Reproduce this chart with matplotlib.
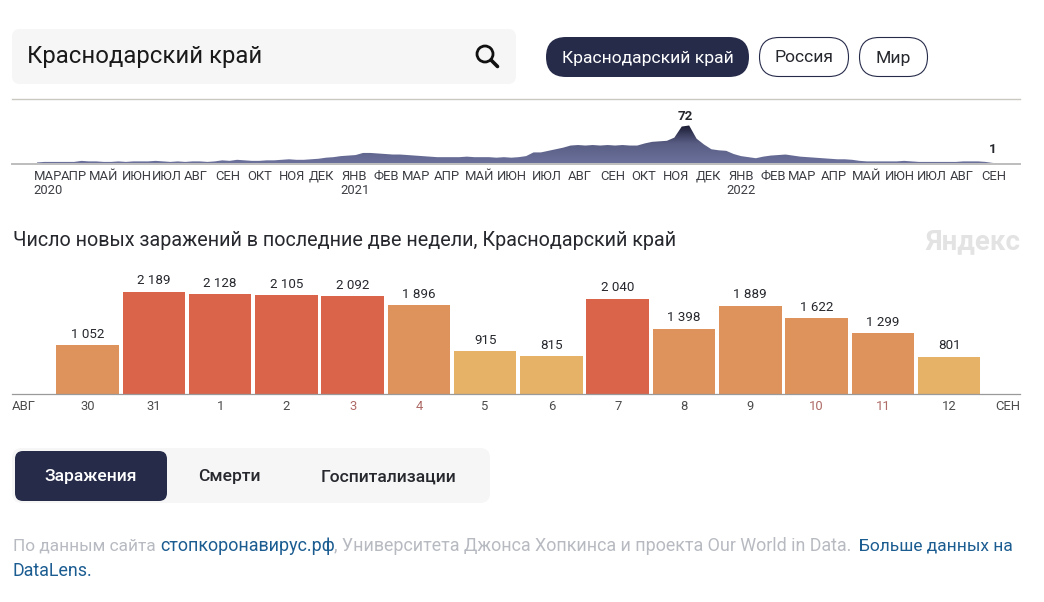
#!/usr/bin/env python
"""Число новых заражений: обзор за весь период и последние две недели"""

import numpy as np
import pandas as pd
import matplotlib
matplotlib.use('Agg')
import matplotlib.pyplot as plt
import matplotlib.dates as mdates
from matplotlib.colors import LinearSegmentedColormap
from matplotlib.patches import FancyBboxPatch, Circle

plt.rcParams['font.family'] = ['Roboto', 'DejaVu Sans']

# data
days = ['30', '31', '1', '2', '3', '4', '5', '6', '7', '8', '9', '10', '11', '12']
cases = [1052, 2189, 2128, 2105, 2092, 1896, 915, 815, 2040, 1398, 1889, 1622, 1299, 801]
weekend_days = ['3', '4', '10', '11']

# недельные значения за весь период, с 22 марта 2020
overview_start = '2020-03-22'
overview = [2, 3, 3, 3, 3, 3, 5, 4, 4, 3, 3, 4, 3, 4, 4, 4, 5, 4, 3, 4,
            3, 4, 4, 3, 4, 6, 5, 7, 6, 5, 5, 6, 6, 7, 8, 7, 7, 8, 9, 11,
            12, 14, 15, 16, 20, 20, 19, 18, 17, 17, 16, 15, 14, 13, 12, 12, 12, 12, 13, 12,
            12, 12, 11, 12, 11, 12, 14, 21, 21, 24, 27, 30, 34, 35, 34, 35, 34, 35, 34, 35,
            34, 34, 38, 41, 42, 43, 49, 70, 72, 47, 36, 27, 25, 24, 18, 14, 12, 10, 13, 15,
            16, 17, 15, 13, 12, 11, 10, 9, 8, 8, 7, 5, 4, 4, 4, 4, 4, 5, 4, 3,
            3, 3, 3, 3, 3, 4, 4, 4, 3, 1]

month_dates = ['2020-04-01', '2020-04-26', '2020-05-24', '2020-06-24', '2020-07-23', '2020-08-19',
               '2020-09-18', '2020-10-18', '2020-11-18', '2020-12-16', '2021-01-16', '2021-02-15',
               '2021-03-15', '2021-04-13', '2021-05-14', '2021-06-14', '2021-07-17', '2021-08-17',
               '2021-09-17', '2021-10-16', '2021-11-16', '2021-12-16', '2022-01-16', '2022-02-15',
               '2022-03-15', '2022-04-14', '2022-05-15', '2022-06-15', '2022-07-15', '2022-08-12',
               '2022-09-12']
month_labels = ['МАР\n2020', 'АПР', 'МАЙ', 'ИЮН', 'ИЮЛ', 'АВГ', 'СЕН', 'ОКТ', 'НОЯ', 'ДЕК',
                'ЯНВ\n2021', 'ФЕВ', 'МАР', 'АПР', 'МАЙ', 'ИЮН', 'ИЮЛ', 'АВГ', 'СЕН', 'ОКТ', 'НОЯ', 'ДЕК',
                'ЯНВ\n2022', 'ФЕВ', 'МАР', 'АПР', 'МАЙ', 'ИЮН', 'ИЮЛ', 'АВГ', 'СЕН']

NAVY = '#262b4a'
PALE = '#f6f6f6'
TEXT = '#26282e'
GREY = '#b7bac1'
LINK = '#1b5c91'

W, H = 1044, 602
fig = plt.figure(figsize=(W / 100, H / 100), dpi=100)


def px_axes(x0, y0, x1, y1):
    # оси по пикселям картинки, y сверху вниз
    return fig.add_axes([x0 / W, 1 - y1 / H, (x1 - x0) / W, (y1 - y0) / H])


# интерфейс
ui = px_axes(0, 0, W, H)
ui.set_xlim(0, W)
ui.set_ylim(H, 0)
ui.axis('off')


def box(x0, y0, x1, y1, r, fc, ec='none', lw=0):
    ui.add_patch(FancyBboxPatch((x0 + r, y0 + r), x1 - x0 - 2 * r, y1 - y0 - 2 * r,
                                boxstyle='round,pad=%g,rounding_size=%g' % (r, r),
                                fc=fc, ec=ec, lw=lw))


box(12, 29, 516, 84, 8, PALE)
ui.text(27, 56, 'Краснодарский край', fontsize=17.2, color='#1a1a1a', va='center')
ui.add_patch(Circle((485, 54), 8, fc='none', ec='#111111', lw=2))
ui.plot([491, 497.5], [60, 66.5], color='#111111', lw=2.6, solid_capstyle='round')

box(546, 37, 749, 77, 20, NAVY)
box(759.5, 37.5, 848.5, 76.5, 19.5, 'white', ec=NAVY, lw=0.8)
box(859.5, 37.5, 927.5, 76.5, 19.5, 'white', ec=NAVY, lw=0.8)
ui.text(647.5, 58, 'Краснодарский край', fontsize=12.6, color='white', ha='center', va='center')
ui.text(804, 58, 'Россия', fontsize=12.6, color=TEXT, ha='center', va='center')
ui.text(893.5, 58, 'Мир', fontsize=12.6, color=TEXT, ha='center', va='center')

ui.text(13, 241, 'Число новых заражений в последние две недели, Краснодарский край',
        fontsize=14.2, color=TEXT, va='center')
ui.text(1020, 242, 'Яндекс', fontsize=20, fontweight='bold', color='#e3e3e3', ha='right', va='center')

box(12, 448, 490, 503, 10, PALE)
box(15, 451, 167, 501, 8, NAVY)
ui.text(91, 477, 'Заражения', fontsize=12.6, fontweight='medium', color='white', ha='center', va='center')
ui.text(229.5, 477, 'Смерти', fontsize=12.6, fontweight='medium', color=TEXT, ha='center', va='center')
ui.text(389, 477, 'Госпитализации', fontsize=12.6, fontweight='medium', color=TEXT, ha='center', va='center')

ui.text(13, 546, 'По данным сайта', fontsize=12.4, color=GREY, va='center')
ui.text(160, 546, 'стопкоронавирус.рф', fontsize=12.9, color=LINK, va='center')
ui.text(334, 546, ', Университета Джонса Хопкинса и проекта Our World in Data.', fontsize=12.9, color=GREY, va='center')
ui.text(859, 546, 'Больше данных на', fontsize=12.5, color=LINK, va='center')
ui.text(13, 571, 'DataLens.', fontsize=12.9, color=LINK, va='center')

# обзор за весь период
dates = pd.date_range(overview_start, periods=len(overview), freq='7D')
ax = px_axes(12, 99.5, 1020, 163.5)
ax.patch.set_alpha(0)
day_px = 1.059
xmin = mdates.date2num(dates[0]) - 25 / day_px
xmax = mdates.date2num(dates[-1]) + 27 / day_px
ymax = 64 / 0.528

poly = ax.fill_between(dates, overview, 0, color='none')
cmap = LinearSegmentedColormap.from_list('area', [(0, '#6c719c'), (0.5, '#595d84'), (0.72, '#3d4060'), (1, '#14162a')])
grad = ax.imshow(np.linspace(1, 0, 256).reshape(-1, 1), cmap=cmap, aspect='auto',
                 extent=[xmin, xmax, 0, 72], zorder=2)
grad.set_clip_path(poly.get_paths()[0], transform=ax.transData)

ax.set_xlim(xmin, xmax)
ax.set_ylim(0, ymax)
ax.set_yticks([])
ax.set_xticks(mdates.datestr2num(month_dates))
ax.set_xticklabels([])
ax.tick_params(axis='x', length=0)
# подписи по базовой линии: в Roboto top-выравнивание скачет от буквы к букве
for d, lab in zip(mdates.datestr2num(month_dates), month_labels):
    for i, part in enumerate(lab.split('\n')):
        ax.annotate(part, (d, 0), xycoords=('data', 'axes fraction'), xytext=(0, -16.5 - 14 * i),
                    textcoords='offset pixels', ha='center', va='baseline', fontsize=9.4, color='#3c3e44')
for side in ['left', 'right']:
    ax.spines[side].set_visible(False)
ax.spines['top'].set_color('#cbc8c2')
ax.spines['top'].set_linewidth(1)
ax.spines['bottom'].set_color('#bdbdbd')
ax.spines['bottom'].set_linewidth(1.4)

peak = int(np.argmax(overview))
ax.annotate(str(overview[peak]), (dates[peak], overview[peak]), xytext=(-3, 2), textcoords='offset points',
            ha='center', va='bottom', fontsize=9.6, fontweight='bold', color=TEXT, zorder=5)
ax.annotate(str(overview[-1]), (dates[-1], overview[-1]), xytext=(0, 5), textcoords='offset points',
            ha='center', va='bottom', fontsize=9.6, fontweight='bold', color=TEXT, zorder=5)

# последние две недели
bx = px_axes(12, 270, 1020, 394)
pos = np.arange(len(days))
colors = np.select([np.array(cases) >= 2000, np.array(cases) >= 1000], ['#d9644a', '#de935d'], '#e6b268')
bars = bx.bar(pos, cases, width=0.945, color=colors)
bx.bar_label(bars, labels=[f'{v:,}'.replace(',', ' ') for v in cases], padding=3, fontsize=9.6, color=TEXT)
bx.set_xlim(-1.14, 14.07)
bx.set_ylim(0, 124 / 0.0468)
bx.set_yticks([])
bx.set_xticks(pos)
bx.set_xticklabels(days, fontsize=9.4, color='#4c4c4c')
bx.tick_params(axis='x', length=0, pad=4.5)
for lab, d in zip(bx.get_xticklabels(), days):
    if d in weekend_days:
        lab.set_color('#ad6a66')
for side in ['left', 'right', 'top']:
    bx.spines[side].set_visible(False)
bx.spines['bottom'].set_color('#9a9a9a')
bx.spines['bottom'].set_linewidth(0.9)
bx.patch.set_alpha(0)
ui.text(12, 406, 'АВГ', fontsize=9.4, color='#4c4c4c', va='center')
ui.text(1020, 406, 'СЕН', fontsize=9.4, color='#4c4c4c', ha='right', va='center')

plt.savefig('out.png', dpi=100)
